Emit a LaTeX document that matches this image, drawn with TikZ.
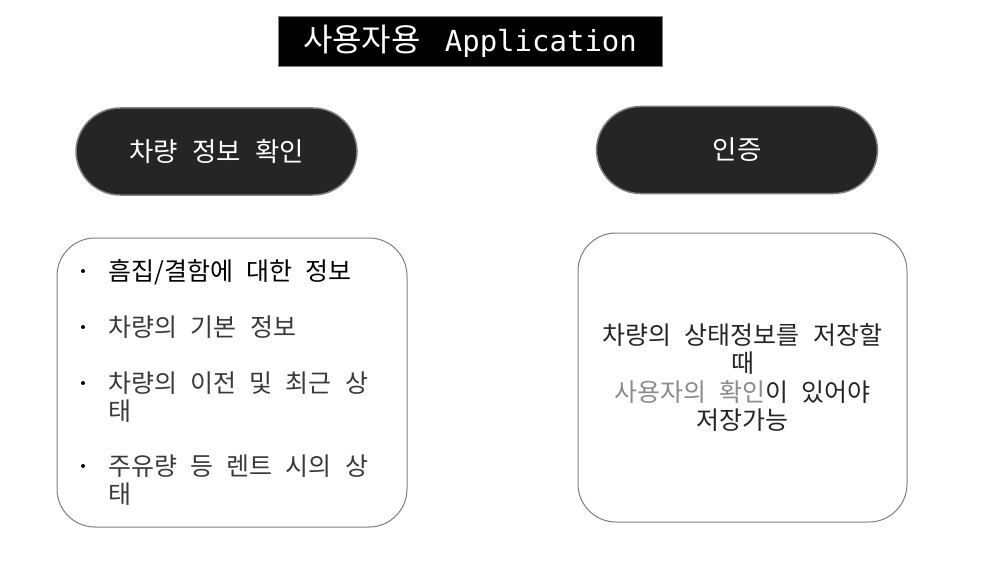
\documentclass[tikz,border=0pt]{standalone}
\usepackage{fontspec}
\setmainfont{Noto Sans CJK KR}[WordSpace=2.4]
\newfontfamily\monofont{DejaVu Sans Mono}
\usepackage{tikz}
\usetikzlibrary{positioning}

\definecolor{pillfill}{HTML}{252525}
\definecolor{edgegray}{HTML}{7F7F7F}
\definecolor{softgray}{HTML}{8C8C8C}
\definecolor{itemgray}{HTML}{3A3A3A}

\begin{document}
\begin{tikzpicture}[x=1pt, y=-1pt,
    titlebox/.style={rectangle, draw=edgegray, line width=1pt, fill=black, text=white, inner sep=0pt,
        minimum width=384pt, minimum height=50pt, font=\fontsize{32}{36}\selectfont},
    pill/.style={rectangle, rounded corners=44pt, draw=edgegray, line width=1.5pt, fill=pillfill, text=white,
        inner sep=0pt, minimum width=281pt, minimum height=87pt, font=\fontsize{26.5}{30}\selectfont},
    panel/.style={rectangle, rounded corners=38pt, draw=edgegray, line width=1pt, fill=white,
        inner sep=0pt, minimum height=289pt},
    bullet/.style={circle, fill=black, inner sep=0pt, minimum size=4pt},
    item/.style={anchor=base west, inner sep=0pt, text width=260pt, align=justify, text=itemgray,
        font=\fontsize{25}{28}\selectfont}]
        \useasboundingbox (0,0) rectangle (985,567);

        % title
        \node [titlebox] (title) at (470,41.5) {사용자용\hspace{24pt}{\monofont\fontsize{29}{34}\selectfont Application}};

        % headers
        \node [pill] (info) at (216.5,151.5) {차량 정보 확인};
        \node [pill] (auth) at (737,150) {인증};

        % panels
        \node [panel, minimum width=350pt] (infobox) at (232,382.5) {};
        \node [panel, minimum width=329pt] (authbox) at (742.5,377.5) {};

        % list in the left panel
        \node [bullet] (b1) at (83,271) {};
        \node [bullet] (b2) at (83,327) {};
        \node [bullet] (b3) at (83,383) {};
        \node [bullet] (b4) at (83,466) {};
        \node [item, text=black] (i1) at (108,280.5) {흠집/결함에 대한 정보};
        \node [item] (i2) at (108,336.5) {차량의 기본 정보};
        \node [item] (i3) at (108,392.5) {차량의 이전 및 최근 상\linebreak 태};
        \node [item] (i4) at (108,475.5) {주유량 등 렌트 시의 상\linebreak 태};

        % text in the right panel
        \node [align=center, inner sep=0pt, text=pillfill, font=\fontsize{25}{28.5}\selectfont] (note) at (authbox.center)
            {차량의 상태정보를 저장할\\때\\{\color{softgray}사용자의 확인}이 있어야\\저장가능};
    \end{tikzpicture}
\end{document}
